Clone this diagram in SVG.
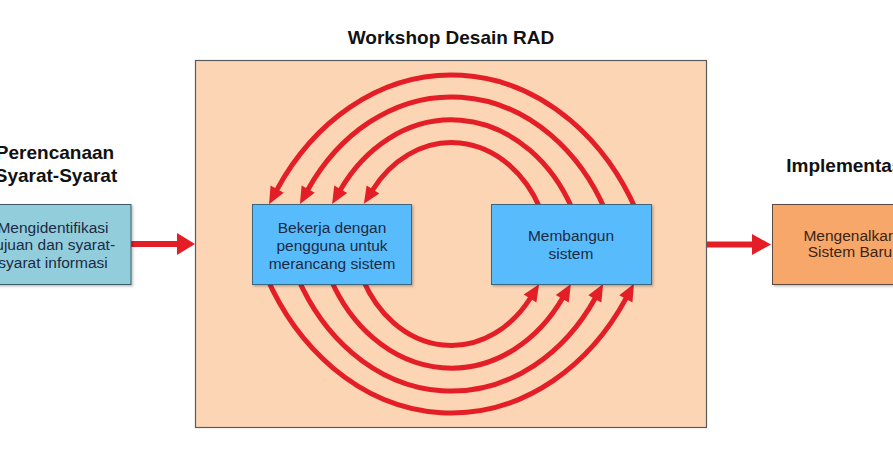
<svg xmlns="http://www.w3.org/2000/svg" width="893" height="469" viewBox="0 0 893 469">
  <defs>
    <style>
      .title { font-family: "Liberation Sans", Arial, sans-serif; font-weight: bold; font-size: 19px; fill: #111; text-anchor: middle; }
      .lbl { font-family: "Liberation Sans", Arial, sans-serif; font-size: 15.5px; fill: #1c2a45; text-anchor: middle; }
      .lbl-dark { font-family: "Liberation Sans", Arial, sans-serif; font-size: 15.5px; fill: #3a2414; text-anchor: middle; }
      .arc { fill: none; stroke: #e41e26; stroke-width: 5; marker-end: url(#ah); }
      .straight { stroke: #e41e26; stroke-width: 6; }
      .head { fill: #e41e26; }
    </style>
    <marker id="ah" markerUnits="userSpaceOnUse" markerWidth="17" markerHeight="15" viewBox="0 0 17 15" refX="1" refY="7.5" orient="auto" overflow="visible">
      <path d="M0,0 L17,7.5 L0,15 z" fill="#e41e26"/>
    </marker>
    <filter id="sh" x="-10%" y="-10%" width="130%" height="140%">
      <feDropShadow dx="1.5" dy="1.5" stdDeviation="1.2" flood-color="#000" flood-opacity="0.25"/>
    </filter>
  </defs>

  <rect width="893" height="469" fill="#ffffff"/>

  <!-- Workshop container -->
  <g id="workshop">
    <rect x="195.5" y="60.5" width="511" height="367" fill="#fcd5b5" stroke="#5a5a5a" stroke-width="1.2"/>
    <text class="title" x="451" y="44">Workshop Desain RAD</text>
  </g>

  <!-- Phase titles -->
  <g id="title-perencanaan">
    <text class="title" x="55" y="159">Perencanaan</text>
    <text class="title" x="56" y="182">Syarat-Syarat</text>
  </g>
  <g id="title-implementasi">
    <text class="title" x="847" y="172">Implementasi</text>
  </g>

  <!-- Connectors -->
  <g id="connectors">
    <line class="straight" x1="131" y1="244" x2="178" y2="244"/>
    <polygon class="head" points="177,233 195,244 177,255"/>
    <line class="straight" x1="707" y1="244.5" x2="753" y2="244.5"/>
    <polygon class="head" points="752,234 771,244.5 752,255"/>

    <!-- top arcs: from Membangun sistem back to Bekerja -->
    <path class="arc" d="M636.9 211.9 A210 258 0 0 0 276.67 190.07"/>
    <path class="arc" d="M605.4 210.5 A174.3 214.14 0 0 0 307.69 190.08"/>
    <path class="arc" d="M572.4 209.1 A136.92 168.22 0 0 0 340.2 190.14"/>
    <path class="arc" d="M539.8 207.8 A99.96 122.81 0 0 0 372.43 190.25"/>

    <!-- bottom arcs: from Bekerja to Membangun sistem -->
    <path class="arc" d="M266.1 276.1 A210 258 0 0 0 626.33 297.93"/>
    <path class="arc" d="M297.6 277.5 A174.3 214.14 0 0 0 595.31 297.92"/>
    <path class="arc" d="M330.6 278.9 A136.92 168.22 0 0 0 562.8 297.86"/>
    <path class="arc" d="M363.2 280.2 A99.96 122.81 0 0 0 530.57 297.75"/>
  </g>

  <!-- Nodes -->
  <g id="node-mengidentifikasi">
    <rect x="-25" y="204.5" width="156" height="80" fill="#92cddc" stroke="#3e5a6a" stroke-width="1" filter="url(#sh)"/>
    <text class="lbl" x="53" y="232.5">Mengidentifikasi</text>
    <text class="lbl" x="53" y="250">tujuan dan syarat-</text>
    <text class="lbl" x="53" y="267.5">syarat informasi</text>
  </g>

  <g id="node-bekerja">
    <rect x="252.5" y="204.5" width="159" height="80" fill="#59bcfc" stroke="#3b6680" stroke-width="1" filter="url(#sh)"/>
    <text class="lbl" x="332" y="232.5">Bekerja dengan</text>
    <text class="lbl" x="332" y="250.5">pengguna untuk</text>
    <text class="lbl" x="332" y="268.5">merancang sistem</text>
  </g>

  <g id="node-membangun">
    <rect x="491.5" y="204.5" width="160" height="80" fill="#59bcfc" stroke="#3b6680" stroke-width="1" filter="url(#sh)"/>
    <text class="lbl" x="571" y="241">Membangun</text>
    <text class="lbl" x="571" y="258.5">sistem</text>
  </g>

  <g id="node-mengenalkan">
    <rect x="772.5" y="204.5" width="156" height="80" fill="#f8a76b" stroke="#5a4a40" stroke-width="1" filter="url(#sh)"/>
    <text class="lbl-dark" x="850" y="240.5">Mengenalkan</text>
    <text class="lbl-dark" x="850" y="256.5">Sistem Baru</text>
  </g>
</svg>
